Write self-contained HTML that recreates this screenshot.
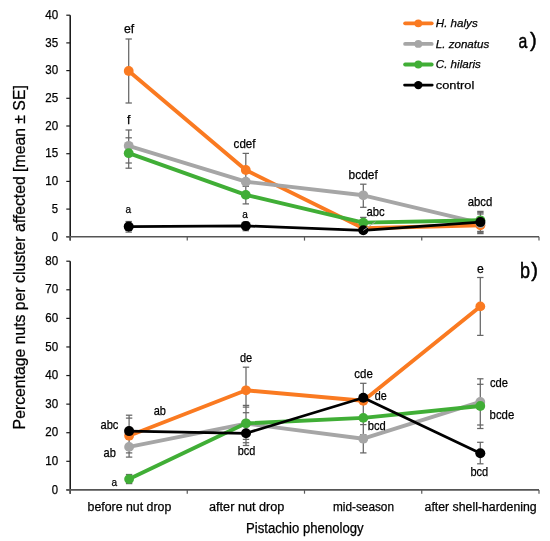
<!DOCTYPE html>
<html><head><meta charset="utf-8"><style>
html,body{margin:0;padding:0;background:#fff;width:550px;height:541px;overflow:hidden}
text{stroke:#000;stroke-width:0.25px}
svg{will-change:transform}
</style></head><body>
<svg width="550" height="541" viewBox="0 0 550 541" style="display:block">
<g font-family='"Liberation Sans", sans-serif' stroke-width="0">
<line x1="70.2" y1="15.2" x2="70.2" y2="240.60000000000002" stroke="#111" stroke-width="1.5"/>
<line x1="66.3" y1="236.80" x2="70.2" y2="236.80" stroke="#1a1a1a" stroke-width="1.2"/>
<line x1="66.3" y1="209.10" x2="70.2" y2="209.10" stroke="#1a1a1a" stroke-width="1.2"/>
<line x1="66.3" y1="181.40" x2="70.2" y2="181.40" stroke="#1a1a1a" stroke-width="1.2"/>
<line x1="66.3" y1="153.70" x2="70.2" y2="153.70" stroke="#1a1a1a" stroke-width="1.2"/>
<line x1="66.3" y1="126.00" x2="70.2" y2="126.00" stroke="#1a1a1a" stroke-width="1.2"/>
<line x1="66.3" y1="98.30" x2="70.2" y2="98.30" stroke="#1a1a1a" stroke-width="1.2"/>
<line x1="66.3" y1="70.60" x2="70.2" y2="70.60" stroke="#1a1a1a" stroke-width="1.2"/>
<line x1="66.3" y1="42.90" x2="70.2" y2="42.90" stroke="#1a1a1a" stroke-width="1.2"/>
<line x1="66.3" y1="15.20" x2="70.2" y2="15.20" stroke="#1a1a1a" stroke-width="1.2"/>
<line x1="66.4" y1="236.8" x2="539" y2="236.8" stroke="#555" stroke-width="1.6"/>
<line x1="70.2" y1="236.8" x2="70.2" y2="240.60000000000002" stroke="#595959" stroke-width="1.2"/>
<line x1="187.25" y1="236.8" x2="187.25" y2="240.60000000000002" stroke="#595959" stroke-width="1.2"/>
<line x1="304.5" y1="236.8" x2="304.5" y2="240.60000000000002" stroke="#595959" stroke-width="1.2"/>
<line x1="421.75" y1="236.8" x2="421.75" y2="240.60000000000002" stroke="#595959" stroke-width="1.2"/>
<line x1="539" y1="236.8" x2="539" y2="240.60000000000002" stroke="#595959" stroke-width="1.2"/>
<line x1="70.2" y1="261.2" x2="70.2" y2="493.7" stroke="#111" stroke-width="1.5"/>
<line x1="66.3" y1="489.90" x2="70.2" y2="489.90" stroke="#1a1a1a" stroke-width="1.2"/>
<line x1="66.3" y1="461.31" x2="70.2" y2="461.31" stroke="#1a1a1a" stroke-width="1.2"/>
<line x1="66.3" y1="432.72" x2="70.2" y2="432.72" stroke="#1a1a1a" stroke-width="1.2"/>
<line x1="66.3" y1="404.14" x2="70.2" y2="404.14" stroke="#1a1a1a" stroke-width="1.2"/>
<line x1="66.3" y1="375.55" x2="70.2" y2="375.55" stroke="#1a1a1a" stroke-width="1.2"/>
<line x1="66.3" y1="346.96" x2="70.2" y2="346.96" stroke="#1a1a1a" stroke-width="1.2"/>
<line x1="66.3" y1="318.38" x2="70.2" y2="318.38" stroke="#1a1a1a" stroke-width="1.2"/>
<line x1="66.3" y1="289.79" x2="70.2" y2="289.79" stroke="#1a1a1a" stroke-width="1.2"/>
<line x1="66.3" y1="261.20" x2="70.2" y2="261.20" stroke="#1a1a1a" stroke-width="1.2"/>
<line x1="66.4" y1="489.9" x2="539" y2="489.9" stroke="#555" stroke-width="1.6"/>
<line x1="70.2" y1="489.9" x2="70.2" y2="493.7" stroke="#595959" stroke-width="1.2"/>
<line x1="187.25" y1="489.9" x2="187.25" y2="493.7" stroke="#595959" stroke-width="1.2"/>
<line x1="304.5" y1="489.9" x2="304.5" y2="493.7" stroke="#595959" stroke-width="1.2"/>
<line x1="421.75" y1="489.9" x2="421.75" y2="493.7" stroke="#595959" stroke-width="1.2"/>
<line x1="539" y1="489.9" x2="539" y2="493.7" stroke="#595959" stroke-width="1.2"/>
<text x="51.80" y="240.50" font-size="12.3" textLength="6.30" lengthAdjust="spacingAndGlyphs">0</text>
<text x="51.80" y="212.80" font-size="12.3" textLength="6.30" lengthAdjust="spacingAndGlyphs">5</text>
<text x="45.20" y="185.10" font-size="12.3" textLength="12.90" lengthAdjust="spacingAndGlyphs">10</text>
<text x="45.20" y="157.40" font-size="12.3" textLength="12.90" lengthAdjust="spacingAndGlyphs">15</text>
<text x="45.20" y="129.70" font-size="12.3" textLength="12.90" lengthAdjust="spacingAndGlyphs">20</text>
<text x="45.20" y="102.00" font-size="12.3" textLength="12.90" lengthAdjust="spacingAndGlyphs">25</text>
<text x="45.20" y="74.30" font-size="12.3" textLength="12.90" lengthAdjust="spacingAndGlyphs">30</text>
<text x="45.20" y="46.60" font-size="12.3" textLength="12.90" lengthAdjust="spacingAndGlyphs">35</text>
<text x="45.20" y="18.90" font-size="12.3" textLength="12.90" lengthAdjust="spacingAndGlyphs">40</text>
<text x="51.80" y="493.60" font-size="12.3" textLength="6.30" lengthAdjust="spacingAndGlyphs">0</text>
<text x="45.20" y="465.01" font-size="12.3" textLength="12.90" lengthAdjust="spacingAndGlyphs">10</text>
<text x="45.20" y="436.42" font-size="12.3" textLength="12.90" lengthAdjust="spacingAndGlyphs">20</text>
<text x="45.20" y="407.84" font-size="12.3" textLength="12.90" lengthAdjust="spacingAndGlyphs">30</text>
<text x="45.20" y="379.25" font-size="12.3" textLength="12.90" lengthAdjust="spacingAndGlyphs">40</text>
<text x="45.20" y="350.66" font-size="12.3" textLength="12.90" lengthAdjust="spacingAndGlyphs">50</text>
<text x="45.20" y="322.07" font-size="12.3" textLength="12.90" lengthAdjust="spacingAndGlyphs">60</text>
<text x="45.20" y="293.49" font-size="12.3" textLength="12.90" lengthAdjust="spacingAndGlyphs">70</text>
<text x="45.20" y="264.90" font-size="12.3" textLength="12.90" lengthAdjust="spacingAndGlyphs">80</text>
<line x1="128.7" y1="39" x2="128.7" y2="103" stroke="#666666" stroke-width="1.25"/>
<line x1="128.7" y1="130" x2="128.7" y2="168.2" stroke="#666666" stroke-width="1.25"/>
<line x1="128.7" y1="221.5" x2="128.7" y2="232.1" stroke="#666666" stroke-width="1.25"/>
<line x1="125.49999999999999" y1="39" x2="131.89999999999998" y2="39" stroke="#666666" stroke-width="1.25"/>
<line x1="125.49999999999999" y1="103" x2="131.89999999999998" y2="103" stroke="#666666" stroke-width="1.25"/>
<line x1="125.49999999999999" y1="130" x2="131.89999999999998" y2="130" stroke="#666666" stroke-width="1.25"/>
<line x1="125.49999999999999" y1="137.8" x2="131.89999999999998" y2="137.8" stroke="#666666" stroke-width="1.25"/>
<line x1="125.49999999999999" y1="163" x2="131.89999999999998" y2="163" stroke="#666666" stroke-width="1.25"/>
<line x1="125.49999999999999" y1="168.2" x2="131.89999999999998" y2="168.2" stroke="#666666" stroke-width="1.25"/>
<line x1="125.49999999999999" y1="221.5" x2="131.89999999999998" y2="221.5" stroke="#666666" stroke-width="1.25"/>
<line x1="125.49999999999999" y1="232.1" x2="131.89999999999998" y2="232.1" stroke="#666666" stroke-width="1.25"/>
<line x1="245.8" y1="153.4" x2="245.8" y2="203.9" stroke="#666666" stroke-width="1.25"/>
<line x1="245.8" y1="221.9" x2="245.8" y2="230.7" stroke="#666666" stroke-width="1.25"/>
<line x1="242.60000000000002" y1="153.4" x2="249.0" y2="153.4" stroke="#666666" stroke-width="1.25"/>
<line x1="242.60000000000002" y1="186.3" x2="249.0" y2="186.3" stroke="#666666" stroke-width="1.25"/>
<line x1="242.60000000000002" y1="203.9" x2="249.0" y2="203.9" stroke="#666666" stroke-width="1.25"/>
<line x1="242.60000000000002" y1="221.9" x2="249.0" y2="221.9" stroke="#666666" stroke-width="1.25"/>
<line x1="242.60000000000002" y1="230.7" x2="249.0" y2="230.7" stroke="#666666" stroke-width="1.25"/>
<line x1="363.3" y1="184.2" x2="363.3" y2="207.3" stroke="#666666" stroke-width="1.25"/>
<line x1="363.3" y1="217.4" x2="363.3" y2="232" stroke="#666666" stroke-width="1.25"/>
<line x1="360.1" y1="184.2" x2="366.5" y2="184.2" stroke="#666666" stroke-width="1.25"/>
<line x1="360.1" y1="207.3" x2="366.5" y2="207.3" stroke="#666666" stroke-width="1.25"/>
<line x1="360.1" y1="217.4" x2="366.5" y2="217.4" stroke="#666666" stroke-width="1.25"/>
<line x1="480.4" y1="211.4" x2="480.4" y2="233.6" stroke="#666666" stroke-width="1.25"/>
<line x1="477.2" y1="211.4" x2="483.59999999999997" y2="211.4" stroke="#666666" stroke-width="1.25"/>
<line x1="477.2" y1="212.7" x2="483.59999999999997" y2="212.7" stroke="#666666" stroke-width="1.25"/>
<line x1="477.2" y1="214" x2="483.59999999999997" y2="214" stroke="#666666" stroke-width="1.25"/>
<line x1="477.2" y1="231.4" x2="483.59999999999997" y2="231.4" stroke="#666666" stroke-width="1.25"/>
<line x1="477.2" y1="232.3" x2="483.59999999999997" y2="232.3" stroke="#666666" stroke-width="1.25"/>
<line x1="477.2" y1="233.6" x2="483.59999999999997" y2="233.6" stroke="#666666" stroke-width="1.25"/>
<line x1="129.1" y1="415.2" x2="129.1" y2="457.1" stroke="#666666" stroke-width="1.25"/>
<line x1="129.1" y1="474.5" x2="129.1" y2="483.6" stroke="#666666" stroke-width="1.25"/>
<line x1="125.89999999999999" y1="415.2" x2="132.29999999999998" y2="415.2" stroke="#666666" stroke-width="1.25"/>
<line x1="125.89999999999999" y1="418.1" x2="132.29999999999998" y2="418.1" stroke="#666666" stroke-width="1.25"/>
<line x1="125.89999999999999" y1="452.9" x2="132.29999999999998" y2="452.9" stroke="#666666" stroke-width="1.25"/>
<line x1="125.89999999999999" y1="457.1" x2="132.29999999999998" y2="457.1" stroke="#666666" stroke-width="1.25"/>
<line x1="125.89999999999999" y1="474.5" x2="132.29999999999998" y2="474.5" stroke="#666666" stroke-width="1.25"/>
<line x1="125.89999999999999" y1="483.6" x2="132.29999999999998" y2="483.6" stroke="#666666" stroke-width="1.25"/>
<line x1="246.0" y1="367.2" x2="246.0" y2="445.5" stroke="#666666" stroke-width="1.25"/>
<line x1="242.8" y1="367.2" x2="249.2" y2="367.2" stroke="#666666" stroke-width="1.25"/>
<line x1="242.8" y1="405.4" x2="249.2" y2="405.4" stroke="#666666" stroke-width="1.25"/>
<line x1="242.8" y1="407.1" x2="249.2" y2="407.1" stroke="#666666" stroke-width="1.25"/>
<line x1="242.8" y1="412.7" x2="249.2" y2="412.7" stroke="#666666" stroke-width="1.25"/>
<line x1="242.8" y1="439.4" x2="249.2" y2="439.4" stroke="#666666" stroke-width="1.25"/>
<line x1="242.8" y1="442.7" x2="249.2" y2="442.7" stroke="#666666" stroke-width="1.25"/>
<line x1="242.8" y1="445.5" x2="249.2" y2="445.5" stroke="#666666" stroke-width="1.25"/>
<line x1="363.3" y1="383.3" x2="363.3" y2="452.9" stroke="#666666" stroke-width="1.25"/>
<line x1="360.1" y1="383.3" x2="366.5" y2="383.3" stroke="#666666" stroke-width="1.25"/>
<line x1="360.1" y1="424.6" x2="366.5" y2="424.6" stroke="#666666" stroke-width="1.25"/>
<line x1="360.1" y1="434.8" x2="366.5" y2="434.8" stroke="#666666" stroke-width="1.25"/>
<line x1="360.1" y1="452.9" x2="366.5" y2="452.9" stroke="#666666" stroke-width="1.25"/>
<line x1="480.3" y1="277.5" x2="480.3" y2="335.4" stroke="#666666" stroke-width="1.25"/>
<line x1="480.3" y1="378.8" x2="480.3" y2="428.5" stroke="#666666" stroke-width="1.25"/>
<line x1="480.3" y1="442.3" x2="480.3" y2="463.8" stroke="#666666" stroke-width="1.25"/>
<line x1="477.1" y1="277.5" x2="483.5" y2="277.5" stroke="#666666" stroke-width="1.25"/>
<line x1="477.1" y1="335.4" x2="483.5" y2="335.4" stroke="#666666" stroke-width="1.25"/>
<line x1="477.1" y1="378.8" x2="483.5" y2="378.8" stroke="#666666" stroke-width="1.25"/>
<line x1="477.1" y1="384.3" x2="483.5" y2="384.3" stroke="#666666" stroke-width="1.25"/>
<line x1="477.1" y1="425" x2="483.5" y2="425" stroke="#666666" stroke-width="1.25"/>
<line x1="477.1" y1="428.5" x2="483.5" y2="428.5" stroke="#666666" stroke-width="1.25"/>
<line x1="477.1" y1="442.3" x2="483.5" y2="442.3" stroke="#666666" stroke-width="1.25"/>
<line x1="477.1" y1="463.8" x2="483.5" y2="463.8" stroke="#666666" stroke-width="1.25"/>
<polyline points="128.70,71.00 245.80,170.00 363.30,228.20 480.40,225.30" fill="none" stroke="#FA7A21" stroke-width="3.9" stroke-linejoin="round" stroke-linecap="round"/>
<circle cx="128.70" cy="71.00" r="4.9" fill="#FA7A21"/>
<circle cx="245.80" cy="170.00" r="4.9" fill="#FA7A21"/>
<circle cx="363.30" cy="228.20" r="4.9" fill="#FA7A21"/>
<circle cx="480.40" cy="225.30" r="4.9" fill="#FA7A21"/>
<polyline points="128.70,145.80 245.80,181.70 363.30,195.30 480.40,223.20" fill="none" stroke="#A6A6A6" stroke-width="3.9" stroke-linejoin="round" stroke-linecap="round"/>
<circle cx="128.70" cy="145.80" r="4.9" fill="#A6A6A6"/>
<circle cx="245.80" cy="181.70" r="4.9" fill="#A6A6A6"/>
<circle cx="363.30" cy="195.30" r="4.9" fill="#A6A6A6"/>
<circle cx="480.40" cy="223.20" r="4.9" fill="#A6A6A6"/>
<polyline points="128.70,153.20 245.80,194.90 363.30,222.60 480.40,220.30" fill="none" stroke="#40AE36" stroke-width="3.9" stroke-linejoin="round" stroke-linecap="round"/>
<circle cx="128.70" cy="153.20" r="4.9" fill="#40AE36"/>
<circle cx="245.80" cy="194.90" r="4.9" fill="#40AE36"/>
<circle cx="363.30" cy="222.60" r="4.9" fill="#40AE36"/>
<circle cx="480.40" cy="220.30" r="4.9" fill="#40AE36"/>
<polyline points="128.70,226.60 245.80,225.90 363.30,230.30 480.40,222.10" fill="none" stroke="#000000" stroke-width="2.7" stroke-linejoin="round" stroke-linecap="round"/>
<circle cx="128.70" cy="226.60" r="5.0" fill="#000000"/>
<circle cx="245.80" cy="225.90" r="5.0" fill="#000000"/>
<circle cx="363.30" cy="230.30" r="5.0" fill="#000000"/>
<circle cx="480.40" cy="222.10" r="5.0" fill="#000000"/>
<line x1="363.2" y1="230.5" x2="375.5" y2="221.7" stroke="#A6A6A6" stroke-width="0.9"/>
<polyline points="129.10,435.70 246.00,390.30 363.30,400.80 480.30,306.40" fill="none" stroke="#FA7A21" stroke-width="3.9" stroke-linejoin="round" stroke-linecap="round"/>
<circle cx="129.10" cy="435.70" r="4.9" fill="#FA7A21"/>
<circle cx="246.00" cy="390.30" r="4.9" fill="#FA7A21"/>
<circle cx="363.30" cy="400.80" r="4.9" fill="#FA7A21"/>
<circle cx="480.30" cy="306.40" r="4.9" fill="#FA7A21"/>
<polyline points="129.10,446.90 246.00,423.60 363.30,438.70 480.30,401.90" fill="none" stroke="#A6A6A6" stroke-width="3.9" stroke-linejoin="round" stroke-linecap="round"/>
<circle cx="129.10" cy="446.90" r="4.9" fill="#A6A6A6"/>
<circle cx="246.00" cy="423.60" r="4.9" fill="#A6A6A6"/>
<circle cx="363.30" cy="438.70" r="4.9" fill="#A6A6A6"/>
<circle cx="480.30" cy="401.90" r="4.9" fill="#A6A6A6"/>
<polyline points="129.10,479.10 246.00,423.30 363.30,417.90 480.30,406.00" fill="none" stroke="#40AE36" stroke-width="3.9" stroke-linejoin="round" stroke-linecap="round"/>
<circle cx="129.10" cy="479.10" r="4.9" fill="#40AE36"/>
<circle cx="246.00" cy="423.30" r="4.9" fill="#40AE36"/>
<circle cx="363.30" cy="417.90" r="4.9" fill="#40AE36"/>
<circle cx="480.30" cy="406.00" r="4.9" fill="#40AE36"/>
<polyline points="129.10,431.10 246.00,433.30 363.30,397.80 480.30,453.30" fill="none" stroke="#000000" stroke-width="2.7" stroke-linejoin="round" stroke-linecap="round"/>
<circle cx="129.10" cy="431.10" r="5.0" fill="#000000"/>
<circle cx="246.00" cy="433.30" r="5.0" fill="#000000"/>
<circle cx="363.30" cy="397.80" r="5.0" fill="#000000"/>
<circle cx="480.30" cy="453.30" r="5.0" fill="#000000"/>
<text x="124.00" y="33.10" font-size="12.2" textLength="10.20" lengthAdjust="spacingAndGlyphs" fill="#000">ef</text>
<text x="128.80" y="123.60" font-size="12.2" text-anchor="middle" fill="#000">f</text>
<text x="125.50" y="212.50" font-size="11.4" textLength="5.6" lengthAdjust="spacingAndGlyphs" fill="#000">a</text>
<text x="233.60" y="147.80" font-size="12.2" textLength="21.90" lengthAdjust="spacingAndGlyphs" fill="#000">cdef</text>
<text x="242.20" y="218.40" font-size="11.4" textLength="5.6" lengthAdjust="spacingAndGlyphs" fill="#000">a</text>
<text x="348.60" y="178.60" font-size="12.2" textLength="29.10" lengthAdjust="spacingAndGlyphs" fill="#000">bcdef</text>
<text x="366.50" y="216.00" font-size="12.2" textLength="18.20" lengthAdjust="spacingAndGlyphs" fill="#000">abc</text>
<text x="467.70" y="205.90" font-size="12.2" textLength="24.60" lengthAdjust="spacingAndGlyphs" fill="#000">abcd</text>
<text x="100.50" y="429.10" font-size="12.2" textLength="17.90" lengthAdjust="spacingAndGlyphs" fill="#000">abc</text>
<text x="153.70" y="414.80" font-size="12.2" textLength="12.20" lengthAdjust="spacingAndGlyphs" fill="#000">ab</text>
<text x="103.60" y="457.30" font-size="12.2" textLength="12.30" lengthAdjust="spacingAndGlyphs" fill="#000">ab</text>
<text x="111.55" y="485.80" font-size="11.4" textLength="5.6" lengthAdjust="spacingAndGlyphs" fill="#000">a</text>
<text x="240.00" y="362.20" font-size="12.2" textLength="12.20" lengthAdjust="spacingAndGlyphs" fill="#000">de</text>
<text x="237.70" y="454.50" font-size="12.2" textLength="17.50" lengthAdjust="spacingAndGlyphs" fill="#000">bcd</text>
<text x="354.30" y="378.40" font-size="12.2" textLength="18.50" lengthAdjust="spacingAndGlyphs" fill="#000">cde</text>
<text x="374.70" y="399.70" font-size="12.2" textLength="12.00" lengthAdjust="spacingAndGlyphs" fill="#000">de</text>
<text x="367.70" y="429.50" font-size="12.2" textLength="18.00" lengthAdjust="spacingAndGlyphs" fill="#000">bcd</text>
<text x="480.40" y="272.80" font-size="12.2" text-anchor="middle" fill="#000">e</text>
<text x="490.00" y="386.60" font-size="12.2" textLength="18.00" lengthAdjust="spacingAndGlyphs" fill="#000">cde</text>
<text x="489.60" y="418.50" font-size="12.2" textLength="24.70" lengthAdjust="spacingAndGlyphs" fill="#000">bcde</text>
<text x="470.40" y="476.20" font-size="12.2" textLength="17.80" lengthAdjust="spacingAndGlyphs" fill="#000">bcd</text>
<text x="87.60" y="511.00" font-size="12.0" textLength="83.70" lengthAdjust="spacingAndGlyphs" fill="#000">before nut drop</text>
<text x="209.00" y="511.00" font-size="12.0" textLength="75.40" lengthAdjust="spacingAndGlyphs" fill="#000">after nut drop</text>
<text x="333.00" y="511.00" font-size="12.0" textLength="61.00" lengthAdjust="spacingAndGlyphs" fill="#000">mid-season</text>
<text x="424.60" y="511.00" font-size="12.0" textLength="112.10" lengthAdjust="spacingAndGlyphs" fill="#000">after shell-hardening</text>
<text x="246.00" y="532.80" font-size="13.8" textLength="117.60" lengthAdjust="spacingAndGlyphs" fill="#000">Pistachio phenology</text>
<text transform="rotate(-90)" x="-429.4" y="24.8" font-size="16.5" textLength="344.2" lengthAdjust="spacingAndGlyphs">Percentage nuts per cluster affected [mean ± SE]</text>
<line x1="405.09999999999997" y1="23.3" x2="431.70000000000005" y2="23.3" stroke="#FA7A21" stroke-width="3.8" stroke-linecap="round"/>
<circle cx="418.3" cy="23.3" r="3.9" fill="#FA7A21"/>
<text x="435.80" y="27.20" font-size="11.2" textLength="41.90" lengthAdjust="spacingAndGlyphs" fill="#000" font-style="italic">H. halys</text>
<line x1="405.09999999999997" y1="43.9" x2="431.70000000000005" y2="43.9" stroke="#A6A6A6" stroke-width="3.8" stroke-linecap="round"/>
<circle cx="418.3" cy="43.9" r="3.9" fill="#A6A6A6"/>
<text x="435.80" y="47.90" font-size="11.2" textLength="53.40" lengthAdjust="spacingAndGlyphs" fill="#000" font-style="italic">L. zonatus</text>
<line x1="405.09999999999997" y1="64.5" x2="431.70000000000005" y2="64.5" stroke="#40AE36" stroke-width="3.8" stroke-linecap="round"/>
<circle cx="418.3" cy="64.5" r="3.9" fill="#40AE36"/>
<text x="435.80" y="68.40" font-size="11.2" textLength="45.10" lengthAdjust="spacingAndGlyphs" fill="#000" font-style="italic">C. hilaris</text>
<line x1="404.5" y1="85.1" x2="432.3" y2="85.1" stroke="#000000" stroke-width="2.6" stroke-linecap="round"/>
<circle cx="418.3" cy="85.1" r="4.2" fill="#000000"/>
<text x="435.80" y="88.70" font-size="11.2" textLength="38.50" lengthAdjust="spacingAndGlyphs" fill="#000">control</text>
<text x="518.6" y="47.7" font-size="21" textLength="8.8" lengthAdjust="spacingAndGlyphs" style="stroke-width:0.5px">a</text>
<text x="520.0" y="277.6" font-size="22.4" textLength="10" lengthAdjust="spacingAndGlyphs" style="stroke-width:0.5px">b</text>
<text x="529.9" y="47.1" font-size="20.3" style="stroke-width:0.45px">)</text>
<text x="531.2" y="276.9" font-size="20.3" style="stroke-width:0.45px">)</text>
</g></svg>
</body></html>
